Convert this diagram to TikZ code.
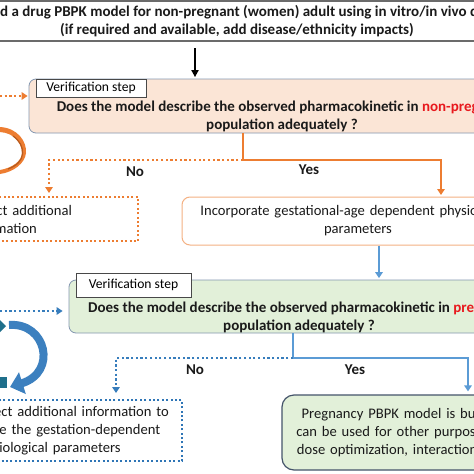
\documentclass[tikz,border=0pt]{standalone}
\usepackage{fontspec}
\setmainfont{Carlito}
\usepackage{xcolor}
\usepackage{tikz}
\usetikzlibrary{calc,arrows.meta}
\definecolor{ink}{HTML}{1A1A1A}
\definecolor{rim}{HTML}{6B6B6B}
\definecolor{peach}{HTML}{FBE5D6}
\definecolor{mint}{HTML}{E2F0D9}
\definecolor{slate}{HTML}{8497B0}
\definecolor{navy}{HTML}{44546A}
\definecolor{orng}{HTML}{ED7D31}
\definecolor{orngdk}{HTML}{B65A1E}
\definecolor{ornglt}{HTML}{F4B183}
\definecolor{sky}{HTML}{5B9BD5}
\definecolor{skydk}{HTML}{2E75B6}
\definecolor{tealbit}{HTML}{1F6F8B}
\definecolor{alert}{HTML}{E8191E}
\tikzset{
  txt/.style={font=\fontsize{14.6}{18}\selectfont, text=ink, align=center},
  bld/.style={txt, font=\bfseries\fontsize{15}{18}\selectfont},
  banner/.style={bld, draw=rim, line width=1.8pt, fill=white, minimum width=540pt, minimum height=40pt},
  qbox/.style={draw=slate, line width=0.8pt, rounded corners=7pt},
  tab/.style={draw=ink!80, fill=white, line width=0.8pt, font=\fontsize{13.6}{16}\selectfont, inner sep=0pt},
  pbox/.style={txt, draw=ornglt, line width=1pt, fill=white, rounded corners=8pt},
  gbox/.style={txt, draw=navy, line width=1.2pt, fill=mint, rounded corners=12pt},
  dbox/.style={txt, align=left, line width=2pt, dash pattern=on 2pt off 2.4pt},
  olink/.style={draw=orng, line width=2.4pt, -{Triangle[length=6pt,width=7.5pt]}},
  blink/.style={draw=sky, line width=2.4pt, -{Triangle[length=6pt,width=7.5pt]}},
  dots/.style={line width=2.2pt, dash pattern=on 2.2pt off 2.5pt},
  lab/.style={bld},
}
\begin{document}
\begin{tikzpicture}[x=1pt,y=-1pt]
  \useasboundingbox[fill=white] (0,0) rectangle (474,474);
  % title banner
  \node[banner] (head) at (237,21)
    {Build a drug PBPK model for non-pregnant (women) adult using in vitro/in vivo data\\(if required and available, add disease/ethnicity impacts)};
  % first check
  \node[qbox, fill=peach, minimum width=506pt, minimum height=54pt] (q1) at (282,106) {};
  \node[tab, minimum width=110pt, minimum height=18pt] (tab1) at (91,88) {Verification step};
  \node[bld] (q1t) at (282,116)
    {Does the model describe the observed pharmacokinetic in \textcolor{alert}{non-pregnant}\\population adequately ?};
  \node[dbox, draw=orng, minimum width=180pt, minimum height=44pt, text width=162pt, inner xsep=9pt] (col1) at (48,219)
    {Collect additional\\information};
  \node[pbox, minimum width=352pt, minimum height=48pt, text width=340pt] (inc) at (358,221)
    {Incorporate gestational-age dependent physiological\\parameters};
  % second check
  \node[qbox, fill=mint, minimum width=460pt, minimum height=53pt] (q2) at (299,306.5) {};
  \node[tab, minimum width=115pt, minimum height=24pt] (tab2) at (133.5,285) {Verification step};
  \node[bld] (q2t) at (299,317.5)
    {Does the model describe the observed pharmacokinetic in \textcolor{alert}{pregnant}\\population adequately ?};
  \node[dbox, draw=skydk, minimum width=220pt, minimum height=61pt, text width=200pt, inner xsep=10pt] (col2) at (72,430.5)
    {Collect additional information to\\refine the gestation-dependent\\physiological parameters};
  \node[gbox, minimum width=252pt, minimum height=75pt, text width=240pt] (preg) at (408,432.5)
    {Pregnancy PBPK model is built and\\can be used for other purposes (e.g.\\dose optimization, interaction study)};
  % connectors
  \coordinate (a0) at (195,48);
  \draw[line width=1.8pt, -{Triangle[length=7pt,width=7pt]}, shorten >=1.5pt] (a0) -- (a0 |- q1.north);
  \coordinate (s1) at (243,160);
  \coordinate (y1) at (441,160);
  \coordinate (n1) at (49,160);
  \draw[olink, shorten >=1.5pt] (s1 |- q1.south) -- (s1) -- (y1) -- (y1 |- inc.north);
  \draw[olink, dots, shorten >=3pt] (s1) -- (n1) -- (n1 |- col1.north);
  \coordinate (v1) at (379,260);
  \draw[blink, shorten >=1.5pt] (v1 |- inc.south) -- (v1 |- q2.north);
  \coordinate (s2) at (293,358);
  \coordinate (y2) at (468,358);
  \coordinate (n2) at (116,358);
  \draw[blink, shorten >=3pt] (s2 |- q2.south) -- (s2) -- (y2) -- (y2 |- preg.north);
  \draw[blink, dots, draw=skydk!80!sky, shorten >=6pt] (s2) -- (n2) -- (n2 |- col2.north);
  \coordinate (r1) at (0,96);
  \draw[olink, dots, shorten >=1pt] (r1) -- (r1 -| q1.west);
  \coordinate (r2) at (0,311);
  \draw[blink, dots, draw=skydk!80!sky, shorten >=6pt] (r2) -- (r2 -| q2.west);
  \foreach \nm/\px/\py/\tx in {no1/135/172/No, yes1/309/170/Yes, no2/195/370/No, yes2/355/370/Yes}
    \node[lab] (\nm) at (\px,\py) {\tx};
  % loop-back arrows at the left edge
  \fill[orng] (0,127) .. controls (18,128) and (27,142) .. (26,153)
    .. controls (25,163) and (14,172) .. (0,174) -- (0,170)
    .. controls (12,168) and (22,161) .. (22,153)
    .. controls (22,144) and (15,133) .. (0,132) -- cycle;
  \draw[orngdk, line width=1.2pt] (13,136) .. controls (20,141) and (23,147) .. (22.5,154)
    .. controls (22,161) and (16,166) .. (8,169);
  \draw[line width=8pt, color=skydk!70!sky, -{Triangle[length=13pt,width=22pt]}]
    (9,325) .. controls (46,322) and (58,372) .. (10,387);
  \fill[tealbit] (0,320) -- (6,326) -- (0,332) -- cycle;
  \fill[tealbit] (0,377) rectangle (7,388);
\end{tikzpicture}
\end{document}
